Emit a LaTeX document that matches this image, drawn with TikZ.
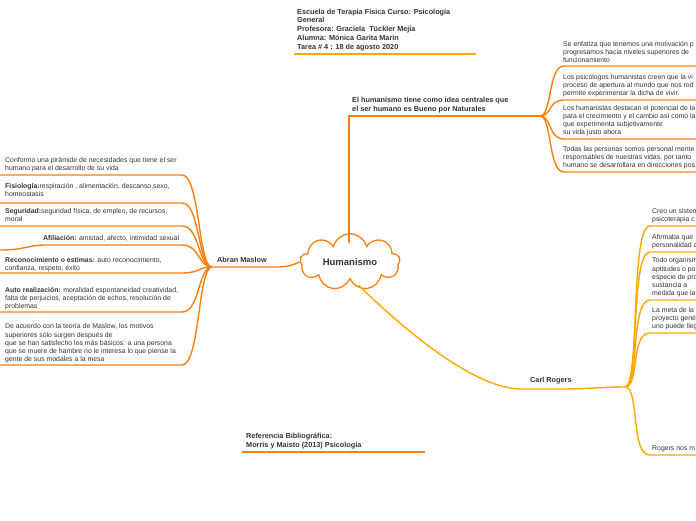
\documentclass[tikz,border=0pt]{standalone}
\usepackage{fontspec}
\setmainfont{Liberation Sans}
\usetikzlibrary{shapes.symbols}
\definecolor{orA}{HTML}{FF7F0E}
\definecolor{orB}{HTML}{FFA800}
\definecolor{txt}{HTML}{333333}
\begin{document}
\begin{tikzpicture}[x=1pt,y=-1pt,
  leaf/.style={anchor=south west,inner sep=1pt,align=left,text=txt,font=\fontsize{6.9}{8.1}\selectfont},
  lbl/.style={anchor=south west,inner sep=1pt,align=left,text=txt,font=\fontsize{7.3}{8.8}\selectfont\bfseries},
  ma/.style={draw=orA,line width=1.4pt},
  ro/.style={draw=orB,line width=1.4pt}]
\useasboundingbox (0,0) rectangle (696,520);
% central
\node[cloud,cloud puffs=9,aspect=2.4,draw=orA,line width=1.3pt,fill=white,minimum width=100,minimum height=40,text=txt,font=\fontsize{9.5}{10}\selectfont\bfseries] (c) at (350,262) {Humanismo};
% title
\node[lbl] (t) at (296,52) {Escuela de Terapia Física Curso: Psicología\\General\\Profesora: Graciela \ Tückler Mejía\\Alumna: Mónica Garita Marín\\Tarea \# 4 : 18 de agosto 2020};
\draw[ro,line width=1.2pt] (294,54) -- (476,54);
\node[lbl] (ref) at (245,450) {Referencia Bibliográfica:\\Morris y Maisto (2013) Psicología};
\draw[ma,line width=1.2pt] (242,452) -- (425,452);
% top branch
\node[lbl] (h) at (351,114) {El humanismo tiene como idea centrales que\\el ser humano es Bueno por Naturales};
\coordinate (hh) at (540,116);
\draw[ma] (349,243) -- (349,116) -- (hh);
\node[leaf] (h1) at (562,64) {Se enfatiza que tenemos una motivación p\\progresamos hacia niveles superiores de\\funcionamiento};
\node[leaf] (h2) at (562,98) {Los psicólogos humanistas creen que la vi\\proceso de apertura al mundo que nos rod\\permite experimentar la dicha de vivir.};
\node[leaf] (h3) at (562,137) {Los humanistas destacan el potencial de la\\para el crecimiento y el cambio así como la\\que experimenta subjetivamente\\su vida justo ahora};
\node[leaf] (h4) at (562,170) {Todas las personas somos personal mente\\responsables de nuestras vidas, por tanto\\humano se desarrollara en direcciones pos};
\foreach \y in {66,100,139,172}{
  \draw[ma] (hh) .. controls (552,116) and (548,\y) .. (564,\y) -- (700,\y);}
% Maslow
\node[lbl] (m) at (216,264) {Abran Maslow};
\coordinate (mh) at (212,267);
\draw[ma] (c.west) .. controls (290,266) .. (280,267) -- (mh);
\node[leaf] (m1) at (4,173) {Conformo una pirámide de necesidades que tiene el ser\\humano para el desarrollo de su vida};
\node[leaf] (m2) at (4,198) {\textbf{Fisiología:}respiración , alimentación, descanso,sexo,\\homeostasis};
\node[leaf] (m3) at (4,223) {\textbf{Seguridad:}seguridad física, de empleo, de recursos,\\moral};
\node[leaf] (m4) at (42,243) {\textbf{Afiliación:} amistad, afecto, intimidad sexual};
\node[leaf] (m5) at (4,273) {\textbf{Reconocimiento o estimas:} auto reconocimiento,\\confianza, respeto, éxito};
\node[leaf] (m6) at (4,311) {\textbf{Auto realización:} moralidad espontaneidad creatividad,\\falta de perjuicios, aceptación de echos, resolución de\\problemas};
\node[leaf] (m7) at (4,364) {De acuerdo con la teoría de Maslow, los motivos\\superiores sólo surgen después de\\que se han satisfecho los más básicos: a una persona\\que se muere de hambre no le interesa lo que piense la\\gente de sus modales a la mesa};
\foreach \y in {175,203,226,273,312,365}{
  \draw[ma] (mh) .. controls (198,267) and (200,\y) .. (182,\y) -- (0,\y);}
\draw[ma] (mh) .. controls (198,267) and (200,245) .. (182,245) -- (45,245) .. controls (28,245) and (25,250) .. (0,250);
% Rogers
\node[lbl] (r) at (529,385) {Carl Rogers};
\coordinate (rh) at (625,387);
\draw[ro] (c.south east) ++(-22,6) .. controls (420,345) and (480,388) .. (520,389) -- (560,389) .. controls (590,389) and (600,387) .. (rh);
\node[leaf] (r1) at (651,224) {Creo un sistem\\psicoterapia c};
\node[leaf] (r2) at (651,250) {Afirmaba que\\personalidad a};
\node[leaf] (r3) at (651,298) {Todo organism\\aptitudes o po\\especie de pro\\sustancia a\\medida que la};
\node[leaf] (r4) at (651,331) {La meta de la\\proyecto gené\\uno puede lleg};
\node[leaf] (r5) at (651,453) {Rogers nos m};
\foreach \y in {226,252,300,333,455}{
  \draw[ro] (rh) .. controls (640,387) and (630,\y) .. (650,\y) -- (700,\y);}
\end{tikzpicture}
\end{document}
